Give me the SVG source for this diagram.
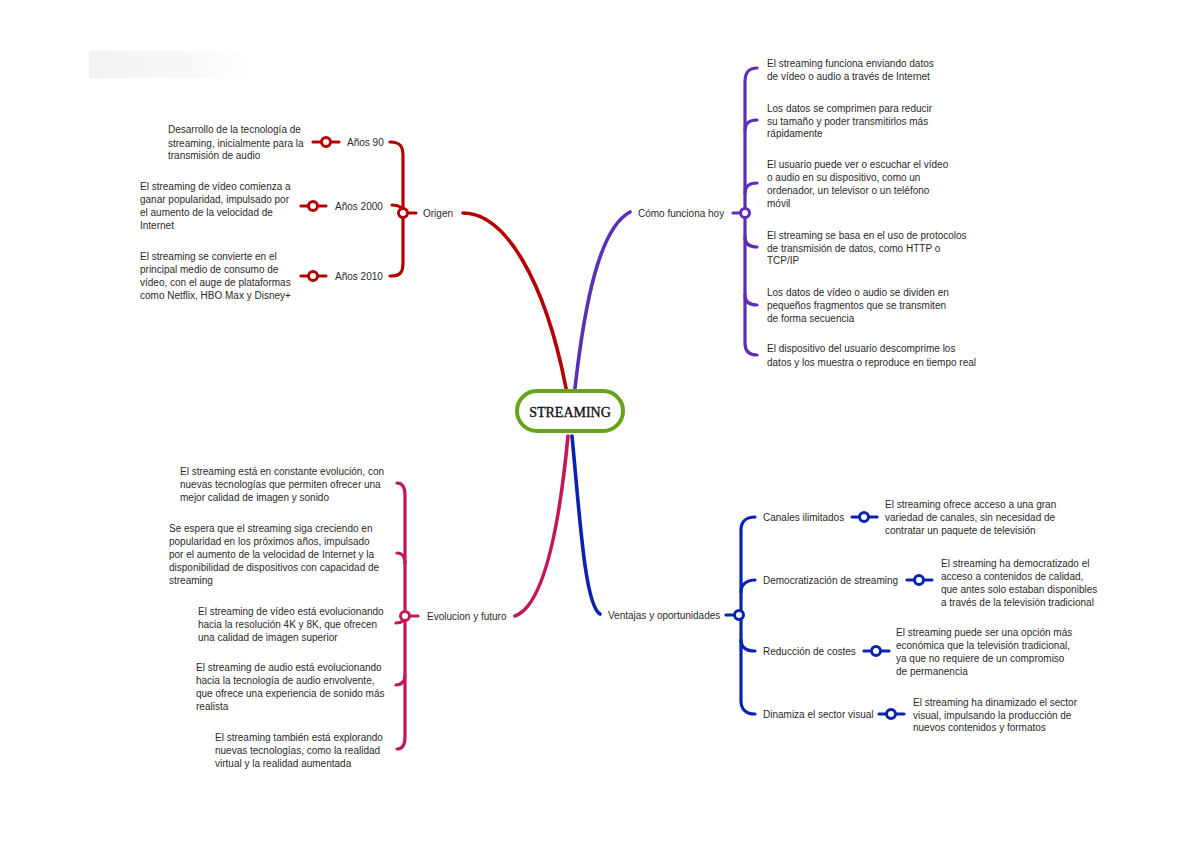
<svg xmlns="http://www.w3.org/2000/svg" width="1200" height="849" viewBox="0 0 1200 849">
<defs>
<linearGradient id="shade" x1="0" y1="0" x2="1" y2="0">
<stop offset="0" stop-color="#f3f3f3"/>
<stop offset="0.6" stop-color="#f8f8f8"/>
<stop offset="1" stop-color="#ffffff"/>
</linearGradient>
<style>
.t{font-family:"Liberation Sans",Arial,sans-serif;font-size:10px;fill:#2a2a2a}
.b{fill:none;stroke-linecap:round;stroke-linejoin:round}
.red{stroke:#b30000}
.pur{stroke:#5b2db8}
.crm{stroke:#c2185b}
.blu{stroke:#0a22b0}
.main{stroke-width:3.6}
.br{stroke-width:3.2}
.ring{fill:#fff;stroke-width:3}
</style>
</defs>
<rect width="1200" height="849" fill="#fff"/>
<rect x="89" y="51" width="162" height="27" fill="url(#shade)"/>

<g id="connectors">
<path class="b red main" d="M566,388 C545,280 505,213 463,213"/>
<path class="b pur main" d="M575,388 C585,300 600,228 630,212"/>
<path class="b crm main" d="M568,436 C560,520 545,605 515,616"/>
<path class="b blu main" d="M572,436 C580,520 585,605 600,614"/>

<path class="b red br" d="M390,142 C400,142 403,146 403,156 L403,263 C403,273 400,276 390,276"/>
<path class="b red br" d="M392,205 C399,205 403,208 403,213 M403,213 H416"/>
<path class="b red br" d="M313,142 H339 M301,206 H326 M301,276 H326"/>

<path class="b pur br" d="M757,68 C749,68 745,72 745,82 L745,343 C745,351 749,355 757,355"/>
<path class="b pur br" d="M745,130 C745,123 749,120 757,120 M745,193 C745,186 749,183 757,183 M745,237 C745,244 749,247 757,247 M745,295 C745,302 749,305 757,305 M733,213 H745"/>

<path class="b crm br" d="M397,483 C402,483 405,487 405,495 L405,737 C405,745 402,749 397,749"/>
<path class="b crm br" d="M405,563 C405,557 402,553 397,553 M405,616 C405,620 402,623 396,623 M405,675 C405,681 402,685 396,685 M405,616 H418"/>

<path class="b blu br" d="M755,517 C746,517 741,522 741,530 L741,701 C741,709 746,714 755,714"/>
<path class="b blu br" d="M741,592 C741,585 746,580 755,580 M741,640 C741,647 746,651 755,651 M726,615 H741"/>
<path class="b blu br" d="M852,517 H877 M907,580 H932 M864,651 H889 M879,714 H904"/>

<circle class="ring red" cx="326" cy="142" r="4.5"/>
<circle class="ring red" cx="313" cy="206" r="4.5"/>
<circle class="ring red" cx="313" cy="276" r="4.5"/>
<circle class="ring red" cx="403" cy="213" r="4.5"/>
<circle class="ring pur" cx="745" cy="213" r="4.5"/>
<circle class="ring crm" cx="405" cy="616" r="4.5"/>
<circle class="ring blu" cx="739" cy="615" r="4.5"/>
<circle class="ring blu" cx="864" cy="517" r="4.5"/>
<circle class="ring blu" cx="919" cy="580" r="4.5"/>
<circle class="ring blu" cx="876" cy="651" r="4.5"/>
<circle class="ring blu" cx="891" cy="714" r="4.5"/>
</g>

<g id="center">
<rect x="517" y="391" width="106" height="40" rx="20" fill="#fff" stroke="#66a31c" stroke-width="4"/>
<text x="570" y="417" text-anchor="middle" font-family="'Liberation Serif',serif" font-size="14" fill="#111" stroke="#111" stroke-width="0.35">STREAMING</text>
</g>

<g id="origen"><text class="t" x="423" y="216.5">Origen</text></g>
<g id="anos90"><text class="t" x="347" y="145.5">Años 90</text></g>
<g id="anos90-desc"><text class="t" x="168"><tspan x="168" y="133">Desarrollo de la tecnología de</tspan><tspan x="168" y="146.5">streaming, inicialmente para la</tspan><tspan x="168" y="159">transmisión de audio</tspan></text></g>
<g id="anos2000"><text class="t" x="335" y="209.5">Años 2000</text></g>
<g id="anos2000-desc"><text class="t"><tspan x="140" y="190">El streaming de vídeo comienza a</tspan><tspan x="140" y="203">ganar popularidad, impulsado por</tspan><tspan x="140" y="216">el aumento de la velocidad de</tspan><tspan x="140" y="229">Internet</tspan></text></g>
<g id="anos2010"><text class="t" x="335" y="279.5">Años 2010</text></g>
<g id="anos2010-desc"><text class="t"><tspan x="140" y="260">El streaming se convierte en el</tspan><tspan x="140" y="273">principal medio de consumo de</tspan><tspan x="140" y="286">vídeo, con el auge de plataformas</tspan><tspan x="140" y="299">como Netflix, HBO Max y Disney+</tspan></text></g>

<g id="como"><text class="t" x="638" y="216.5">Cómo funciona hoy</text></g>
<g id="como-1"><text class="t"><tspan x="767" y="67">El streaming funciona enviando datos</tspan><tspan x="767" y="80">de vídeo o audio a través de Internet</tspan></text></g>
<g id="como-2"><text class="t"><tspan x="767" y="111.5">Los datos se comprimen para reducir</tspan><tspan x="767" y="124.5">su tamaño y poder transmitirlos más</tspan><tspan x="767" y="137">rápidamente</tspan></text></g>
<g id="como-3"><text class="t"><tspan x="767" y="168">El usuario puede ver o escuchar el vídeo</tspan><tspan x="767" y="181">o audio en su dispositivo, como un</tspan><tspan x="767" y="194">ordenador, un televisor o un teléfono</tspan><tspan x="767" y="207">móvil</tspan></text></g>
<g id="como-4"><text class="t"><tspan x="767" y="238.5">El streaming se basa en el uso de protocolos</tspan><tspan x="767" y="251.5">de transmisión de datos, como HTTP o</tspan><tspan x="767" y="264">TCP/IP</tspan></text></g>
<g id="como-5"><text class="t"><tspan x="767" y="295.5">Los datos de vídeo o audio se dividen en</tspan><tspan x="767" y="308.5">pequeños fragmentos que se transmiten</tspan><tspan x="767" y="321.5">de forma secuencia</tspan></text></g>
<g id="como-6"><text class="t"><tspan x="767" y="352">El dispositivo del usuario descomprime los</tspan><tspan x="767" y="365.5">datos y los muestra o reproduce en tiempo real</tspan></text></g>

<g id="evolucion"><text class="t" x="427" y="619.5">Evolucion y futuro</text></g>
<g id="evo-1"><text class="t"><tspan x="180" y="474.5">El streaming está en constante evolución, con</tspan><tspan x="180" y="487.5">nuevas tecnologías que permiten ofrecer una</tspan><tspan x="180" y="500.5">mejor calidad de imagen y sonido</tspan></text></g>
<g id="evo-2"><text class="t"><tspan x="169" y="532">Se espera que el streaming siga creciendo en</tspan><tspan x="169" y="545">popularidad en los próximos años, impulsado</tspan><tspan x="169" y="558">por el aumento de la velocidad de Internet y la</tspan><tspan x="169" y="571">disponibilidad de dispositivos con capacidad de</tspan><tspan x="169" y="584">streaming</tspan></text></g>
<g id="evo-3"><text class="t"><tspan x="198" y="614.5">El streaming de vídeo está evolucionando</tspan><tspan x="198" y="627.5">hacia la resolución 4K y 8K, que ofrecen</tspan><tspan x="198" y="640.5">una calidad de imagen superior</tspan></text></g>
<g id="evo-4"><text class="t"><tspan x="196" y="670.5">El streaming de audio está evolucionando</tspan><tspan x="196" y="683.5">hacia la tecnología de audio envolvente,</tspan><tspan x="196" y="696.5">que ofrece una experiencia de sonido más</tspan><tspan x="196" y="709.5">realista</tspan></text></g>
<g id="evo-5"><text class="t"><tspan x="215" y="740.5">El streaming también está explorando</tspan><tspan x="215" y="753.5">nuevas tecnologías, como la realidad</tspan><tspan x="215" y="766.5">virtual y la realidad aumentada</tspan></text></g>

<g id="ventajas"><text class="t" x="608" y="618.5">Ventajas y oportunidades</text></g>
<g id="canales"><text class="t" x="763" y="521">Canales ilimitados</text></g>
<g id="canales-desc"><text class="t"><tspan x="885" y="508">El streaming ofrece acceso a una gran</tspan><tspan x="885" y="521">variedad de canales, sin necesidad de</tspan><tspan x="885" y="534">contratar un paquete de televisión</tspan></text></g>
<g id="democ"><text class="t" x="763" y="583.5">Democratización de streaming</text></g>
<g id="democ-desc"><text class="t"><tspan x="941" y="567">El streaming ha democratizado el</tspan><tspan x="941" y="580">acceso a contenidos de calidad,</tspan><tspan x="941" y="593">que antes solo estaban disponibles</tspan><tspan x="941" y="605.5">a través de la televisión tradicional</tspan></text></g>
<g id="reduccion"><text class="t" x="763" y="654.5">Reducción de costes</text></g>
<g id="reduccion-desc"><text class="t"><tspan x="896" y="635.5">El streaming puede ser una opción más</tspan><tspan x="896" y="648.5">económica que la televisión tradicional,</tspan><tspan x="896" y="661.5">ya que no requiere de un compromiso</tspan><tspan x="896" y="674.5">de permanencia</tspan></text></g>
<g id="dinamiza"><text class="t" x="763" y="717.5">Dinamiza el sector visual</text></g>
<g id="dinamiza-desc"><text class="t"><tspan x="913" y="705.5">El streaming ha dinamizado el sector</tspan><tspan x="913" y="718.5">visual, impulsando la producción de</tspan><tspan x="913" y="731">nuevos contenidos y formatos</tspan></text></g>
</svg>
